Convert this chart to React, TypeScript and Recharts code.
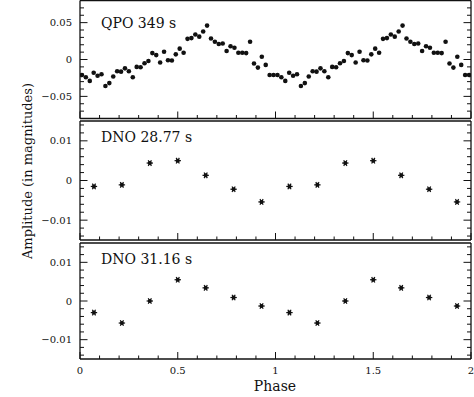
import React from 'react';
import { ScatterChart, Scatter, XAxis, YAxis } from 'recharts';

const INK = '#111111';
const FONT = '"DejaVu Serif", serif';

// phase bins (one cycle), the plot shows each cycle twice
const QPO_PHASE = [
  0.01, 0.03, 0.05, 0.07, 0.09, 0.11, 0.13, 0.15, 0.17, 0.19,
  0.21, 0.23, 0.25, 0.27, 0.29, 0.31, 0.33, 0.35, 0.37, 0.39,
  0.41, 0.43, 0.45, 0.47, 0.49, 0.51, 0.53, 0.55, 0.57, 0.59,
  0.61, 0.63, 0.65, 0.67, 0.69, 0.71, 0.73, 0.75, 0.77, 0.79,
  0.81, 0.83, 0.85, 0.87, 0.89, 0.91, 0.93, 0.95, 0.97, 0.99,
];
const QPO_AMP = [
  -0.021, -0.024, -0.029, -0.018, -0.022, -0.02, -0.036, -0.032, -0.023, -0.016,
  -0.0165, -0.012, -0.016, -0.024, -0.01, -0.0105, -0.005, -0.002, 0.0087, 0.006,
  -0.004, 0.0106, -0.001, -0.0014, 0.007, 0.0147, 0.0092, 0.028, 0.029, 0.034,
  0.031, 0.038, 0.046, 0.0285, 0.024, 0.021, 0.0216, 0.0115, 0.018, 0.016,
  0.0092, 0.0092, 0.0087, 0.024, -0.0055, -0.011, 0.0037, -0.0073, -0.021, -0.021,
];

const DNO_PHASE = [0.0714, 0.2143, 0.3571, 0.5, 0.6429, 0.7857, 0.9286];
const DNO1_AMP = [-0.0015, -0.0011, 0.0044, 0.005, 0.0013, -0.0022, -0.0054];
const DNO2_AMP = [-0.003, -0.0057, 0.0, 0.0055, 0.0034, 0.0009, -0.0013];

const PHASE_TICKS = [
  0, 0.1, 0.2, 0.3, 0.4, 0.5, 0.6, 0.7, 0.8, 0.9, 1,
  1.1, 1.2, 1.3, 1.4, 1.5, 1.6, 1.7, 1.8, 1.9, 2,
];
const QPO_TICKS = [-0.07, -0.06, -0.05, -0.04, -0.03, -0.02, -0.01, 0, 0.01, 0.02, 0.03, 0.04, 0.05, 0.06, 0.07];
const QPO_MAJOR = [-0.05, 0, 0.05];
const DNO_TICKS = [-0.014, -0.012, -0.01, -0.008, -0.006, -0.004, -0.002, 0, 0.002, 0.004, 0.006, 0.008, 0.01, 0.012, 0.014];
const DNO_MAJOR = [-0.01, 0, 0.01];

const twoCycles = (phase: number[], amp: number[]) =>
  [0, 1].flatMap((c) => phase.map((p, i) => ({ x: p + c, y: amp[i] })));

const isIn = (v: number, list: number[]) => list.some((m) => Math.abs(m - v) < 1e-9);
const isPhaseMajor = (v: number) => Math.abs(v * 2 - Math.round(v * 2)) < 1e-6;
const fmtY = (v: number) => (Math.abs(v) < 1e-12 ? '0' : (v < 0 ? '\u2212' : '') + Math.abs(v).toFixed(2));

function xTick(side: 'bottom' | 'top', labels: boolean) {
  return (props: any) => {
    const { x, y, payload } = props;
    const major = isPhaseMajor(payload.value);
    const len = major ? 7 : 3.5;
    const dir = side === 'bottom' ? -1 : 1;
    return (
      <g>
        <line x1={x} y1={y} x2={x} y2={y + dir * len} stroke={INK} strokeWidth={1} />
        {labels && major && (
          <text x={x} y={y + 15} textAnchor="middle" fontSize={10} fontFamily={FONT} fill={INK}>
            {String(payload.value)}
          </text>
        )}
      </g>
    );
  };
}

function yTick(side: 'left' | 'right', majors: number[], labels: boolean) {
  return (props: any) => {
    const { x, y, payload } = props;
    const major = isIn(payload.value, majors);
    const len = major ? 7.5 : 4;
    const dir = side === 'left' ? 1 : -1;
    return (
      <g>
        <line x1={x} y1={y} x2={x + dir * len} y2={y} stroke={INK} strokeWidth={1} />
        {labels && major && (
          <text x={x - 8} y={y + 3.5} textAnchor="end" fontSize={10} fontFamily={FONT} fill={INK}>
            {fmtY(payload.value)}
          </text>
        )}
      </g>
    );
  };
}

const Dot = (props: any) => <circle cx={props.cx} cy={props.cy} r={2.3} fill={INK} />;

const Star = (props: any) => {
  const { cx, cy } = props;
  const r = 3.2;
  return (
    <g stroke={INK} strokeWidth={1.2}>
      <circle cx={cx} cy={cy} r={2} fill={INK} stroke="none" />
      <line x1={cx - r} y1={cy} x2={cx + r} y2={cy} />
      <line x1={cx - r * 0.5} y1={cy - r * 0.87} x2={cx + r * 0.5} y2={cy + r * 0.87} />
      <line x1={cx - r * 0.5} y1={cy + r * 0.87} x2={cx + r * 0.5} y2={cy - r * 0.87} />
    </g>
  );
};

interface PanelProps {
  top: number;
  height: number;
  margin: { top: number; right: number; bottom: number; left: number };
  data: { x: number; y: number }[];
  domain: [number, number];
  yTicks: number[];
  yMajor: number[];
  shape: (p: any) => React.ReactElement;
  xLabels: boolean;
}

function Panel({ top, height, margin, data, domain, yTicks, yMajor, shape, xLabels }: PanelProps) {
  const frame = { stroke: INK, strokeWidth: 1.3 };
  return (
    <div style={{ position: 'absolute', left: 0, top }}>
      <ScatterChart width={474} height={height} margin={margin}>
        <XAxis
          xAxisId="b"
          dataKey="x"
          type="number"
          domain={[0, 2]}
          ticks={PHASE_TICKS}
          interval={0}
          allowDataOverflow
          height={1}
          tickSize={0}
          tickMargin={0}
          tickLine={false}
          axisLine={frame}
          tick={xTick('bottom', xLabels)}
        />
        <XAxis
          xAxisId="t"
          orientation="top"
          type="number"
          domain={[0, 2]}
          ticks={PHASE_TICKS}
          interval={0}
          allowDataOverflow
          height={1}
          tickSize={0}
          tickMargin={0}
          tickLine={false}
          axisLine={frame}
          tick={xTick('top', false)}
        />
        <YAxis
          yAxisId="l"
          dataKey="y"
          type="number"
          domain={domain}
          ticks={yTicks}
          interval={0}
          allowDataOverflow
          width={1}
          tickSize={0}
          tickMargin={0}
          tickLine={false}
          axisLine={frame}
          tick={yTick('left', yMajor, true)}
        />
        <YAxis
          yAxisId="r"
          orientation="right"
          type="number"
          domain={domain}
          ticks={yTicks}
          interval={0}
          allowDataOverflow
          width={1}
          tickSize={0}
          tickMargin={0}
          tickLine={false}
          axisLine={frame}
          tick={yTick('right', yMajor, false)}
        />
        <Scatter xAxisId="b" yAxisId="l" data={data} dataKey="y" shape={shape} isAnimationActive={false} />
      </ScatterChart>
    </div>
  );
}

const textStyle: React.CSSProperties = {
  position: 'absolute',
  fontFamily: FONT,
  color: INK,
  whiteSpace: 'nowrap',
  lineHeight: '16px',
};

export default function App() {
  return (
    <div style={{ position: 'absolute', left: 0, top: 0, width: 474, height: 397, background: '#fff', overflow: 'hidden' }}>
      <Panel
        top={-1}
        height={124}
        margin={{ top: 0.5, right: 2, bottom: 3.5, left: 79 }}
        data={twoCycles(QPO_PHASE, QPO_AMP)}
        domain={[-0.08, 0.08]}
        yTicks={QPO_TICKS}
        yMajor={QPO_MAJOR}
        shape={Dot}
        xLabels={false}
      />
      <Panel
        top={116}
        height={130}
        margin={{ top: 4, right: 2, bottom: 5, left: 79 }}
        data={twoCycles(DNO_PHASE, DNO1_AMP)}
        domain={[-0.015, 0.015]}
        yTicks={DNO_TICKS}
        yMajor={DNO_MAJOR}
        shape={Star}
        xLabels={false}
      />
      <Panel
        top={238}
        height={159}
        margin={{ top: 4, right: 2, bottom: 37, left: 79 }}
        data={twoCycles(DNO_PHASE, DNO2_AMP)}
        domain={[-0.015, 0.015]}
        yTicks={DNO_TICKS}
        yMajor={DNO_MAJOR}
        shape={Star}
        xLabels
      />
      <div style={{ ...textStyle, left: 101, top: 15, fontSize: 14 }}>QPO 349 s</div>
      <div style={{ ...textStyle, left: 101, top: 129, fontSize: 14 }}>DNO 28.77 s</div>
      <div style={{ ...textStyle, left: 101, top: 251, fontSize: 14 }}>DNO 31.16 s</div>
      <div style={{ ...textStyle, left: 225, top: 378, width: 100, textAlign: 'center', fontSize: 14 }}>Phase</div>
      <div
        style={{
          ...textStyle,
          left: -72,
          top: 163,
          width: 200,
          textAlign: 'center',
          fontSize: 13,
          transform: 'rotate(-90deg)',
        }}
      >
        Amplitude (in magnitudes)
      </div>
    </div>
  );
}
